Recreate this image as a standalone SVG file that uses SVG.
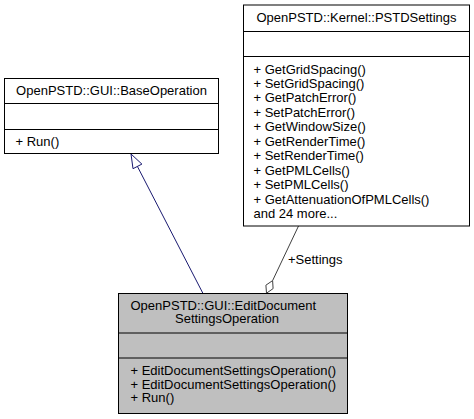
<svg xmlns="http://www.w3.org/2000/svg" width="474" height="419" viewBox="0 0 474 419">
<style>
  .box{fill:#ffffff;stroke:#000000;stroke-width:1}
  .cur{fill:#bfbfbf;stroke:#000000;stroke-width:1}
  .div{stroke:#000000;stroke-width:1;fill:none}
  text{font-family:"Liberation Sans",Arial,Helvetica,sans-serif;font-size:13px;fill:#000000}
  .c{text-anchor:middle}
  .inh{stroke:#191970;stroke-width:1;fill:none}
  .agg{stroke:#404040;stroke-width:1;fill:none}
</style>
<rect width="474" height="419" fill="#ffffff"/>
<g id="connectors">
  <path class="inh" d="M203,293.5 L137.4,166.4"/>
  <polygon class="inh" fill="#ffffff" points="131,154 141.9,164.1 133,168.7" style="fill:#ffffff"/>
  <path class="agg" d="M298.5,226 L272.6,280.6"/>
  <polygon class="agg" style="fill:#ffffff" points="266.5,293.2 273.1,288.6 272.6,280.6 265.9,285.2"/>
  <text x="288" y="264">+Settings</text>
</g>
<g id="node-BaseOperation">
  <rect class="box" x="4.5" y="78.5" width="214" height="75"/>
  <path class="div" d="M4.5,103.5 H218.5 M4.5,129.5 H218.5"/>
  <text class="c" x="111.5" y="94.5">OpenPSTD::GUI::BaseOperation</text>
  <text x="15.5" y="146">+ Run()</text>
</g>
<g id="node-PSTDSettings">
  <rect class="box" x="243.5" y="5" width="226" height="221"/>
  <path class="div" d="M243.5,31.5 H469.5 M243.5,56.5 H469.5"/>
  <text class="c" x="356.5" y="21.8">OpenPSTD::Kernel::PSTDSettings</text>
  <text x="253.5" y="73.5">+ GetGridSpacing()</text>
  <text x="253.5" y="87.9">+ SetGridSpacing()</text>
  <text x="253.5" y="102.4">+ GetPatchError()</text>
  <text x="253.5" y="116.8">+ SetPatchError()</text>
  <text x="253.5" y="131.3">+ GetWindowSize()</text>
  <text x="253.5" y="145.7">+ GetRenderTime()</text>
  <text x="253.5" y="160.2">+ SetRenderTime()</text>
  <text x="253.5" y="174.6">+ GetPMLCells()</text>
  <text x="253.5" y="189.1">+ SetPMLCells()</text>
  <text x="253.5" y="203.5">+ GetAttenuationOfPMLCells()</text>
  <text x="253.5" y="218">and 24 more...</text>
</g>
<g id="node-EditDocumentSettingsOperation">
  <rect class="cur" x="118.5" y="293.5" width="229" height="120"/>
  <path class="div" d="M118.5,333 H347.5 M118.5,358 H347.5"/>
  <text x="130.5" y="309.5">OpenPSTD::GUI::EditDocument</text>
  <text x="175" y="323">SettingsOperation</text>
  <text x="130.5" y="374.6">+ EditDocumentSettingsOperation()</text>
  <text x="130.5" y="388.5">+ EditDocumentSettingsOperation()</text>
  <text x="130.5" y="402.4">+ Run()</text>
</g>
</svg>
